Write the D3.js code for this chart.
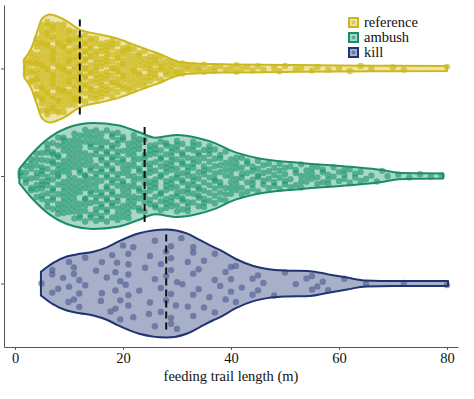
<!DOCTYPE html>
<html>
<head>
<meta charset="utf-8">
<script src="https://cdn.jsdelivr.net/npm/d3@7"></script>
<style>
  body { margin: 0; background: #fff; }
  svg text { font-family: "Liberation Serif", "DejaVu Serif", serif; }
</style>
</head>
<body>
<div id="chart"></div>
<script>
// groups, top to bottom
var groups = ["reference", "ambush", "kill"];

// violin outline: [trail length (m), relative half width]
var refProfile = [[1.7,0.17],[3,0.37],[4,0.65],[5,0.92],[6.5,1.0],[9,0.91],[12,0.72],[15.7,0.63],[19,0.55],[22,0.44],[25,0.33],[27,0.26],[29,0.17],[31,0.11],[35,0.085],[40,0.075],[50,0.065],[60,0.055],[70,0.05],[80,0.045]];
var ambProfile = [[0.8,0.13],[3.4,0.44],[6.5,0.72],[9.6,0.89],[14.5,0.98],[19,0.94],[23,0.81],[26,0.71],[30,0.76],[34,0.70],[37,0.61],[40,0.47],[45,0.33],[53,0.24],[62,0.17],[68,0.11],[71,0.06],[75,0.05],[79.3,0.045]];
var killProfile = [[4.8,0.22],[7,0.38],[9.6,0.50],[12,0.55],[14.5,0.59],[17,0.67],[19,0.77],[23,0.93],[28,1.0],[31.8,0.93],[34,0.82],[36.7,0.68],[38,0.62],[41,0.45],[44,0.33],[46.7,0.27],[50,0.24],[54.6,0.23],[58,0.17],[61.5,0.11],[65,0.055],[70,0.045],[80.2,0.045]];

// number of trails per whole metre, starting at 1 m
var refCounts = [0,4,8,14,20,22,22,21,20,19,17,16,15,14,14,13,13,12,11,11,10,9,8,7,7,6,5,4,4,3,3,2,2,2,2,1,2,1,1,1,2,1,1,1,1,1,0,1,1,1,0,1,1,0,1,1,0,1,0,1,0,1,0,1,0,1,0,0,0,1,0,1,0,0,0,0,0,0,0,1];
var ambCounts = [2,4,6,8,10,11,12,13,14,14,15,15,15,15,15,15,15,15,14,14,13,13,12,11,11,11,11,12,12,12,12,11,11,11,10,9,9,8,7,7,6,6,5,5,5,4,4,4,4,4,3,3,4,3,3,3,3,3,2,2,3,2,2,2,1,1,1,1,1,0,1,0,1,0,1,0,1,0,1];

// kill trails (m)
var killValues = [4.9,6.9,6.9,6.9,8.0,8.9,9.9,10.0,10.0,10.9,10.9,10.9,11.9,11.9,11.9,13.0,13.0,15.0,15.9,16.1,16.1,17.0,17.7,18.0,18.6,18.6,18.6,18.9,19.5,19.5,19.5,20.0,20.5,21.0,21.0,21.0,21.0,21.0,21.9,21.9,23.0,24.1,24.8,25.0,25.0,25.9,25.9,25.9,27.0,27.0,27.0,28.0,28.0,28.0,28.9,28.9,28.9,28.9,28.9,28.9,29.8,30.0,30.0,30.8,31.0,32.0,32.0,33.0,33.0,33.0,33.0,33.0,34.0,34.0,35.0,35.0,36.0,37.0,37.0,37.0,38.0,39.0,39.0,40.0,40.0,40.0,40.9,40.9,42.0,44.0,44.0,45.0,45.0,46.0,48.0,50.0,52.0,54.0,55.0,55.0,56.0,57.0,58.0,61.0,65.0,72.0,80.0];

// medians (dashed lines)
var medians = [12, 24, 28];

var xTicks = [0, 20, 40, 60, 80];

var strokeColors = ["#cbb81f", "#1b8c6b", "#1f3475"];
var fillColors = ["#ece5a6", "#a9d8c6", "#a8afc8"];
var pointColors = ["#cdb91a", "#1d946e", "#3f5189"];
var pointOpacity = [0.7, 0.6, 0.55];

var width = 474, height = 399;
var serif = '"Liberation Serif", "DejaVu Serif", serif';

function expand(counts) {
  var out = [];
  counts.forEach(function (n, i) { for (var k = 0; k < n; k++) out.push(i + 1); });
  return out;
}

// van der Corput sequence, as in quasirandom point placement
function vdc(n) {
  var v = 0, denom = 1;
  while (n > 0) { denom *= 2; v += (n % 2) / denom; n = Math.floor(n / 2); }
  return v;
}

var groupData = [
  {name: groups[0], profile: refProfile, values: expand(refCounts), median: medians[0]},
  {name: groups[1], profile: ambProfile, values: expand(ambCounts), median: medians[1]},
  {name: groups[2], profile: killProfile, values: killValues.slice(), median: medians[2]}
];

var svg = d3.select("#chart").append("svg")
    .attr("width", width)
    .attr("height", height)
    .attr("font-family", serif);

var x = d3.scaleLinear().domain([-2.04, 82.04]).range([4, 458]);
var y = d3.scalePoint().domain(groups).range([5, 347]).padding(0.59);
var half = d3.scaleLinear().domain([0, 1]).range([0, 54]);

// axes
var xAxis = svg.append("g")
    .attr("transform", "translate(0,347)")
    .call(d3.axisBottom(x).tickValues(xTicks).tickSize(3).tickSizeOuter(0).tickPadding(3));
xAxis.attr("font-family", serif).attr("font-size", 14.5);
xAxis.selectAll("text").attr("fill", "#111");

var yAxis = svg.append("g")
    .attr("transform", "translate(4,0)")
    .call(d3.axisLeft(y).tickSize(3).tickSizeOuter(0).tickFormat(""));

svg.selectAll(".domain, .tick line").attr("stroke", "#555").attr("stroke-width", 1);

svg.append("text")
    .attr("x", x(40))
    .attr("y", 381)
    .attr("text-anchor", "middle")
    .attr("font-size", 14.5)
    .attr("fill", "#111")
    .text("feeding trail length (m)");

groupData.forEach(function (g, gi) {
  var cy = y(g.name);
  var wScale = d3.scaleLinear()
      .domain(g.profile.map(function (d) { return d[0]; }))
      .range(g.profile.map(function (d) { return d[1]; }))
      .clamp(true);

  var area = d3.area()
      .x(function (d) { return x(d[0]); })
      .y0(function (d) { return cy - half(d[1]); })
      .y1(function (d) { return cy + half(d[1]); })
      .curve(d3.curveMonotoneX);

  var layer = svg.append("g");

  layer.append("path")
      .datum(g.profile)
      .attr("d", area)
      .attr("fill", fillColors[gi]);

  var vals = g.values.slice().sort(d3.ascending);
  layer.selectAll("circle")
    .data(vals)
    .join("circle")
      .attr("cx", function (d) { return x(d); })
      .attr("cy", function (d, i) { return cy + (vdc(i + 1) - 0.5) * 2 * half(wScale(d)) * 0.9; })
      .attr("r", 3.2)
      .attr("fill", pointColors[gi])
      .attr("fill-opacity", pointOpacity[gi]);

  layer.append("path")
      .datum(g.profile)
      .attr("d", area)
      .attr("fill", "none")
      .attr("stroke", strokeColors[gi])
      .attr("stroke-width", 2)
      .attr("stroke-linejoin", "round");

  layer.append("line")
      .attr("x1", x(g.median)).attr("x2", x(g.median))
      .attr("y1", cy - 49).attr("y2", cy + 49)
      .attr("stroke", "#111")
      .attr("stroke-width", 2)
      .attr("stroke-dasharray", "7,4");
});

// legend
var legend = svg.append("g").attr("transform", "translate(348,17)");
var item = legend.selectAll("g")
  .data(groups)
  .join("g")
    .attr("transform", function (d, i) { return "translate(0," + (i * 15) + ")"; });

item.append("rect")
    .attr("x", 1).attr("y", 1)
    .attr("width", 9).attr("height", 9)
    .attr("fill", function (d, i) { return fillColors[i]; })
    .attr("stroke", function (d, i) { return strokeColors[i]; })
    .attr("stroke-width", 2);

item.append("circle")
    .attr("cx", 5.5).attr("cy", 5.5).attr("r", 2)
    .attr("fill", function (d, i) { return pointColors[i]; })
    .attr("fill-opacity", 0.6);

item.append("text")
    .attr("x", 16)
    .attr("y", 10)
    .attr("font-size", 14.5)
    .attr("fill", "#111")
    .text(function (d) { return d; });
</script>
</body>
</html>
